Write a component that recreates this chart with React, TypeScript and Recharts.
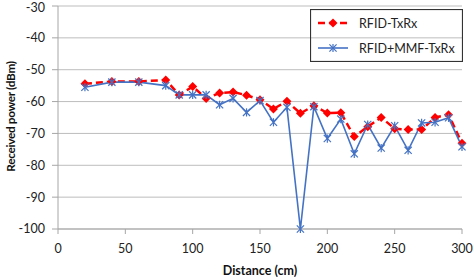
import { LineChart, Line, XAxis, YAxis, CartesianGrid, Legend } from 'recharts';

// Measured received power vs. tag distance
const distances = [20, 40, 60, 80, 90, 100, 110, 120, 130, 140, 150, 160, 170, 180, 190, 200, 210, 220, 230, 240, 250, 260, 270, 280, 290, 300];
const rfidTxRx = [-54.4, -53.7, -53.7, -53.2, -57.9, -55.3, -59, -57.3, -57, -58, -59.4, -62.3, -59.9, -63.7, -61.3, -63.6, -63.5, -71, -67.9, -65, -68.5, -68.8, -68.8, -65, -64.1, -73.1];
const rfidMmfTxRx = [-55.5, -53.9, -53.9, -55, -57.9, -57.9, -57.9, -61, -59, -63.4, -59.7, -66.5, -61.8, -100, -61.6, -71.6, -65.5, -76.4, -67.2, -74.6, -67.6, -75.3, -66.7, -66.5, -65.1, -74.2];

const xTicks = [0, 50, 100, 150, 200, 250, 300];
const yTicks = [-100, -90, -80, -70, -60, -50, -40, -30];

const data = distances.map((d, i) => ({ distance: d, rfid: rfidTxRx[i], mmf: rfidMmfTxRx[i] }));

const RED = '#ff0000';
const BLUE = '#4472c4';
const FONT = 'Lato, "Open Sans", sans-serif';

const Diamond = (props: any) => {
  const { cx, cy, index } = props;
  if (cx == null || cy == null) return <g key={index} />;
  const r = 4.5;
  return <path key={index} d={`M${cx},${cy - r}L${cx + r},${cy}L${cx},${cy + r}L${cx - r},${cy}Z`} fill={RED} />;
};

const Star = (props: any) => {
  const { cx, cy, index } = props;
  if (cx == null || cy == null) return <g key={index} />;
  const r = 3.6;
  return (
    <g key={index} stroke={BLUE} strokeWidth={1.2}>
      <line x1={cx - r} y1={cy - r} x2={cx + r} y2={cy + r} />
      <line x1={cx - r} y1={cy + r} x2={cx + r} y2={cy - r} />
      <line x1={cx} y1={cy - r - 0.5} x2={cx} y2={cy + r + 0.5} />
    </g>
  );
};

const renderLegend = () => (
  <svg width={153} height={53} style={{ display: 'block', fontFamily: FONT }}>
    <rect x={0.5} y={0.5} width={152} height={52} fill="none" stroke="#333" strokeWidth={1.2} />
    <line x1={8} y1={14} x2={38} y2={14} stroke={RED} strokeWidth={2.5} strokeDasharray="7 4" />
    <Diamond cx={23} cy={14} index="l1" />
    <text x={49} y={18.5} fontSize={12.5} fill="#222">RFID-TxRx</text>
    <line x1={8} y1={39} x2={38} y2={39} stroke={BLUE} strokeWidth={1.6} />
    <Star cx={23} cy={39} index="l2" />
    <text x={49} y={43.5} fontSize={12.5} fill="#222">RFID+MMF-TxRx</text>
  </svg>
);

const YTitle = (props: any) => {
  const { viewBox } = props;
  const cx = viewBox.x + 10;
  const cy = viewBox.y + viewBox.height / 2 - 1;
  return (
    <text x={cx} y={cy} transform={`rotate(-90, ${cx}, ${cy})`} textAnchor="middle" dominantBaseline="central"
      fontSize={11.8} letterSpacing={-0.3} fontWeight="bold" fill="#111" fontFamily={FONT}>
      Received power (dBm)
    </text>
  );
};

export default function App() {
  return (
    <div style={{ position: 'absolute', left: 0, top: 0, width: 474, height: 277, background: '#fff' }}>
      <LineChart width={474} height={277} data={data} margin={{ top: 6, right: 12, left: 0, bottom: 0 }}>
        <CartesianGrid vertical={false} stroke="#bdbdbd" strokeWidth={1} />
        <XAxis
          dataKey="distance"
          type="number"
          domain={[0, 300]}
          ticks={xTicks}
          height={48}
          tickSize={5}
          tickMargin={10}
          stroke="#a6a6a6"
          tick={{ fill: '#222', fontSize: 12.5, fontFamily: FONT }}
          label={{ value: 'Distance (cm)', position: 'insideBottom', offset: 2, fill: '#111', fontSize: 12.5, fontWeight: 'bold', fontFamily: FONT }}
        />
        <YAxis
          type="number"
          domain={[-100, -30]}
          ticks={yTicks}
          width={58}
          tickSize={6}
          tickMargin={7}
          stroke="#a6a6a6"
          tick={{ fill: '#222', fontSize: 12.5, fontFamily: FONT }}
          label={<YTitle />}
        />
        <Legend
          layout="vertical"
          align="center"
          verticalAlign="middle"
          content={renderLegend}
          wrapperStyle={{ top: 9, left: 310, width: 153, height: 53 }}
        />
        <Line
          dataKey="rfid"
          stroke={RED}
          strokeWidth={2.5}
          strokeDasharray="7 4"
          dot={<Diamond />}
          activeDot={false}
          isAnimationActive={false}
        />
        <Line
          dataKey="mmf"
          stroke={BLUE}
          strokeWidth={1.6}
          dot={<Star />}
          activeDot={false}
          isAnimationActive={false}
        />
      </LineChart>
    </div>
  );
}
